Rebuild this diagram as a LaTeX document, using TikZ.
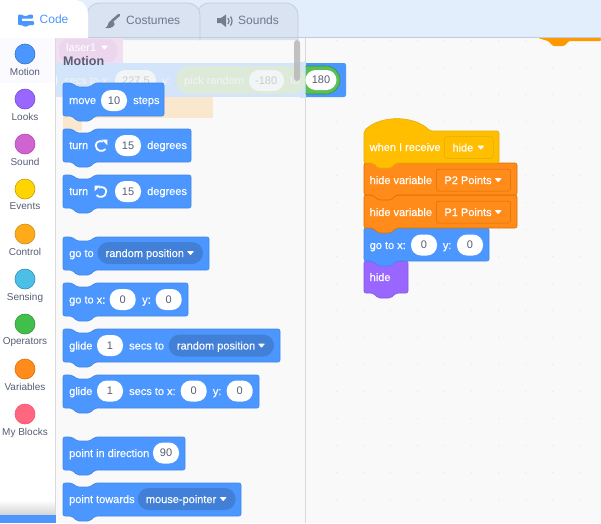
\documentclass[tikz,border=0pt]{standalone}
\usepackage{fontspec}
\setmainfont{Liberation Sans}
\newfontfamily\heavyface[FakeBold=0.2]{Liberation Sans}
\usepackage{tikz}
\definecolor{motionblue}{HTML}{4C97FF}
\definecolor{motionedge}{HTML}{3F86E8}
\definecolor{motionmenu}{HTML}{4280D7}
\definecolor{eventyellow}{HTML}{FFBF00}
\definecolor{eventedge}{HTML}{E6AC00}
\definecolor{varorange}{HTML}{FF8C1A}
\definecolor{varedge}{HTML}{DB6E00}
\definecolor{looksviolet}{HTML}{9966FF}
\definecolor{lookedge}{HTML}{855CD6}
\definecolor{labelgrey}{HTML}{575E75}
\definecolor{tabfill}{HTML}{D9E3F2}
\definecolor{tabedge}{HTML}{C3CCD9}
\definecolor{barblue}{HTML}{E3EEFD}
\definecolor{paneltone}{HTML}{F9F9F9}
\definecolor{iconfill}{HTML}{757D8C}
\definecolor{ghostband}{HTML}{D3E4FB}
\definecolor{ghostgreen}{HTML}{DDEAD9}
\definecolor{ghostpill}{HTML}{F2F5F5}
\definecolor{ghostpeach}{HTML}{F9E8CE}
\definecolor{ghostpink}{HTML}{F0DEF1}
\definecolor{ghostmenu}{HTML}{EBD6EE}
\definecolor{ringgreen}{HTML}{59C059}
\definecolor{ringedge}{HTML}{389438}
\newcommand{\blockfont}{\fontsize{11}{13}\selectfont}
\newcommand{\tabfont}{\fontsize{12}{14}\selectfont}
\newcommand{\catfont}{\fontsize{10}{12}\selectfont}
\newcommand{\titlefont}{\fontsize{12.5}{15}\selectfont\bfseries}
\tikzset{
	blockface/.style={draw=#1,line width=.6pt,rounded corners=2pt},
	blocktext/.style={text=white,anchor=base west,yshift=-4pt,inner sep=0pt,font=\heavyface\blockfont},
	numpill/.style={fill=white,text=labelgrey,minimum width=26pt,minimum height=21pt,inner sep=0pt,rounded corners=10pt,font=\blockfont},
	bluemenu/.style={fill=motionmenu,rounded corners=11pt},
	orangemenu/.style={fill=varorange,draw=varedge,line width=.5pt,rounded corners=3pt},
	yellowmenu/.style={fill=eventyellow,draw=eventedge,line width=.5pt,rounded corners=3pt},
	tabshape/.style={fill=tabfill,draw=tabedge,line width=.7pt,rounded corners=12pt},
	catdot/.style={circle,minimum size=20pt,inner sep=0pt,line width=.6pt},
	cattext/.style={text=labelgrey,inner sep=0pt,font=\catfont},
	ghosttext/.style={anchor=base west,yshift=-4pt,inner sep=0pt,font=\blockfont},
	tabtext/.style={anchor=base west,yshift=-4pt,inner sep=0pt,font=\tabfont},
}
% stack block: left, top, right, bottom, colour, edge
\newcommand{\stackblock}[6]{
	\draw[blockface=#6,fill=#5] (#1,#2) -- (#1+9,#2) -- (#1+14,#2+4) -- (#1+27,#2+4) -- (#1+32,#2) -- (#3,#2) -- (#3,#4) -- (#1+32,#4) -- (#1+27,#4+5) -- (#1+14,#4+5) -- (#1+9,#4) -- (#1,#4) -- cycle;
}
% menu: name, left, right, middle, text, style
\newcommand{\menupill}[6]{
	\path[#6] (#2,#4-11) rectangle (#3,#4+11);
	\node[blocktext] (#1) at (#2+8,#4) {#5};
	\menucaret{#3-12.5}{#4}
}
\newcommand{\menucaret}[2]{
	\fill[white,rounded corners=.6pt] (#1-3.5,#2-1.8) -- (#1+3.5,#2-1.8) -- (#1,#2+2.2) -- cycle;
}
% turn arrow: centre, mirror
\newcommand{\turnicon}[3]{
	\begin{scope}[shift={(#1,#2)},xscale=#3]
		\draw[white,line width=1.8pt] (4.5,3.6) .. controls (2,6.8) and (-5.2,6) .. (-5.2,0) .. controls (-5.2,-3.6) and (-1.5,-5.2) .. (2,-4);
		\fill[white] (.7,-5.8) -- (6.3,-5.8) -- (6.3,-.3) -- cycle;
	\end{scope}
}

\begin{document}
\begin{tikzpicture}[x=1pt,y=-1pt]
	\useasboundingbox (0,0) rectangle (601,523);
	\fill[paneltone] (0,0) rectangle (601,523);
	\fill[barblue] (0,0) rectangle (601,37.5);

	\foreach \col in {0,...,9}
		\foreach \row in {0,...,17}
			\fill[black!9] (336.7+27*\col,40.7+27*\row) circle[radius=.7pt];

	\draw[tabshape] (197,40) -- (197,3) -- (298,3) -- (298,40);
	\draw[tabshape] (87,40) -- (87,3) -- (200,3) -- (200,40);
	\fill[white] (0,0) -- (74,0) .. controls (83,0) and (88,6) .. (88,15) -- (88,38) -- (0,38) -- cycle;
	\draw[tabedge,line width=.7pt] (88,37.5) -- (601,37.5);

	\fill[motionblue,rounded corners=1pt] (18,14.5) -- (22,14.5) -- (24,16) -- (27,16) -- (29,14.5) -- (33,14.5) -- (33,18.5) -- (18,18.5) -- cycle;
	\fill[motionblue] (18,18) rectangle (22,21.5);
	\fill[motionblue,rounded corners=1pt] (18,21) -- (34,21) -- (34,25) -- (29,25) -- (27,26.5) -- (24,26.5) -- (22,25) -- (18,25) -- cycle;
	\node[tabtext,text=motionblue] (codetab) at (39.5,19) {Code};
	\draw[iconfill,line width=2.6pt,line cap=round] (119,15) -- (112,21);
	\fill[iconfill] (105,28) .. controls (109,27) and (107,22) .. (111,20.5) .. controls (114,21) and (115,23) .. (114.5,24.5) .. controls (113,28) and (109,28.5) .. (105,28) -- cycle;
	\node[tabtext,text=labelgrey!85] (costumestab) at (126,20.5) {Costumes};
	\fill[iconfill] (217,18) -- (221,18) -- (226,14.5) -- (226,27) -- (221,23) -- (217,23) -- cycle;
	\draw[iconfill,line width=1.2pt] (228,18) .. controls (229.5,20) and (229.5,22) .. (228,24);
	\draw[iconfill,line width=1.2pt] (230.5,16.5) .. controls (232.5,19.5) and (232.5,22.5) .. (230.5,25.5);
	\node[tabtext,text=labelgrey!85] (soundstab) at (238,20.5) {Sounds};

	\fill[white] (0,38) rectangle (55.5,523);
	\fill[bottom color=black!17,top color=white] (0,500) rectangle (55.5,515);
	\fill[motionblue] (0,515) rectangle (56,523);
	\fill[black!5!blue!2!white] (0,38) rectangle (55.5,83);
	\draw[black!15,line width=.8pt] (55.7,38) -- (55.7,515);

	\foreach \catname/\catlabel/\catfill/\catedge [count=\i from 0] in {
		motion/Motion/4C97FF/3373CC,looks/Looks/9966FF/774DCB,sound/Sound/CF63CF/BD42BD,
		events/Events/FFD500/CC9900,control/Control/FFAB19/CF8B17,sensing/Sensing/4CBFE6/2E8EB8,
		operators/Operators/40BF4A/389438,variables/Variables/FF8C1A/DB6E00,myblocks/My Blocks/FF6680/FF4D6A}
	{
		\definecolor{dotfill}{HTML}{\catfill}
		\definecolor{dotedge}{HTML}{\catedge}
		\node[catdot,fill=dotfill,draw=dotedge] (\catname) at (25,54+45*\i) {};
		\node[cattext,below=3.5pt] (\catname text) at (\catname.south) {\catlabel};
	}

	\fill[ghostpink] (56,38) rectangle (123,63);
	\fill[ghostmenu,rounded corners=9pt] (59,39) rectangle (117,62);
	\node[ghosttext,text=white] (laserlabel) at (66,47) {laser1};
	\menucaret{104.5}{47.5}

	\fill[ghostpeach] (63,96) rectangle (213,118);
	\fill[ghostpeach] (63,118) rectangle (82,131);
	\fill[ghostband] (56,63) rectangle (306,97);
	\fill[motionblue,rounded corners=2pt] (300,63) rectangle (346,97);
	\fill[ghostband] (300,62) rectangle (305.5,98);
	\begin{scope}
		\clip (56,60) rectangle (70,100);
		\fill[ghostpill,rounded corners=10pt] (30,70) rectangle (57.5,91);
	\end{scope}
	\fill[ghostpill,rounded corners=10pt] (115,70) rectangle (156,91);
	\node[ghosttext,text=ghostpill] (ghostsecs) at (64,80.5) {secs to x:};
	\node[ghosttext,text=black!20] (ghostval) at (122,80.5) {227.5};
	\node[ghosttext,text=ghostpill] (ghosty) at (162,80.5) {y:};
	\fill[ghostgreen,rounded corners=13pt] (176,66) rectangle (305.5,94);
	\fill[ghostpill,rounded corners=10pt] (249,70) rectangle (284,91);
	\node[ghosttext,text=ghostpill] (ghostpick) at (184,80.5) {pick random};
	\node[ghosttext,text=black!20] (ghostneg) at (255,80.5) {-180};
	\node[ghosttext,text=ghostpill] (ghostto) at (290,80.5) {to};
	\begin{scope}
		\clip (305.5,60) rectangle (345,100);
		\fill[ringgreen,draw=ringedge,line width=.6pt,rounded corners=14pt] (280,66) rectangle (340,94);
	\end{scope}
	\node[numpill,minimum width=31pt,minimum height=20pt] (randomto) at (321,80) {180};
	\draw[black!15,line width=.8pt] (305.5,38) -- (305.5,63);
	\draw[black!15,line width=.8pt] (305.5,97) -- (305.5,523);
	\fill[black!28,opacity=.85,rounded corners=3pt] (294,40) rectangle (300,81);
	\node[anchor=base west,inner sep=0pt,yshift=-4.5pt,text=labelgrey,font=\titlefont] (flyouttitle) at (63,61) {Motion};

	\stackblock{63}{83}{164}{116}{motionblue}{motionedge}
	\node[blocktext] (movetext) at (69,100) {move};
	\node[numpill] (movesteps) at (114,100.5) {10};
	\node[blocktext] (stepstext) at (133,100) {steps};

	\stackblock{63}{129}{191}{162}{motionblue}{motionedge}
	\node[blocktext] (turnright) at (69,145) {turn};
	\turnicon{101}{145.5}{1}
	\node[numpill] (rightdeg) at (128,145.5) {15};
	\node[blocktext] (rightunit) at (147,145) {degrees};

	\stackblock{63}{175}{191}{208}{motionblue}{motionedge}
	\node[blocktext] (turnleft) at (69,191) {turn};
	\turnicon{101}{191.5}{-1}
	\node[numpill] (leftdeg) at (128,191.5) {15};
	\node[blocktext] (leftunit) at (147,191) {degrees};

	\stackblock{63}{237}{209}{270}{motionblue}{motionedge}
	\node[blocktext] (gototext) at (69,253) {go to};
	\menupill{gotomenu}{97.5}{203}{253}{random position}{bluemenu}

	\stackblock{63}{283}{188}{316}{motionblue}{motionedge}
	\node[blocktext] (gotoxtext) at (69,299.5) {go to x:};
	\node[numpill] (gotox) at (122.7,299.5) {0};
	\node[blocktext] (gotoytext) at (142,299.5) {y:};
	\node[numpill] (gotoy) at (168.7,299.5) {0};

	\stackblock{63}{329}{280}{362}{motionblue}{motionedge}
	\node[blocktext] (glidetext) at (69,345.5) {glide};
	\node[numpill] (glidesecs) at (110,345.5) {1};
	\node[blocktext] (glideunit) at (129,345.5) {secs to};
	\menupill{glidemenu}{168.7}{274}{345.5}{random position}{bluemenu}

	\stackblock{63}{375}{259}{408}{motionblue}{motionedge}
	\node[blocktext] (glideto) at (69,391) {glide};
	\node[numpill] (glidetosecs) at (110,391) {1};
	\node[blocktext] (glidetounit) at (129,391) {secs to x:};
	\node[numpill] (glidex) at (193.7,391) {0};
	\node[blocktext] (glideytext) at (212.7,391) {y:};
	\node[numpill] (glidey) at (239.7,391) {0};

	\stackblock{63}{437}{185}{470}{motionblue}{motionedge}
	\node[blocktext] (pointtext) at (69,453) {point in direction};
	\node[numpill] (pointval) at (166,453) {90};

	\stackblock{63}{483}{241}{516}{motionblue}{motionedge}
	\node[blocktext] (towardstext) at (69,499) {point towards};
	\menupill{towardsmenu}{137.7}{235.7}{499}{mouse-pointer}{bluemenu}

	\stackblock{364}{261}{408}{293}{looksviolet}{lookedge}
	\node[blocktext] (hidetext) at (369.5,277) {hide};

	\stackblock{364}{228}{489}{261}{motionblue}{motionedge}
	\node[blocktext] (scriptxtext) at (369.5,245) {go to x:};
	\node[numpill] (scriptx) at (424,245) {0};
	\node[blocktext] (scriptytext) at (442.7,245) {y:};
	\node[numpill] (scripty) at (470,245) {0};

	\stackblock{364}{195}{517}{228}{varorange}{varedge}
	\node[blocktext] (hideone) at (369.5,212) {hide variable};
	\menupill{onemenu}{436.3}{510.7}{212}{P1 Points}{orangemenu}

	\stackblock{364}{163}{517}{195}{varorange}{varedge}
	\node[blocktext] (hidetwo) at (369.5,180) {hide variable};
	\menupill{twomenu}{436.3}{510.7}{180}{P2 Points}{orangemenu}

	\draw[blockface=eventedge,fill=eventyellow] (364,131) .. controls (380,115) and (414,115) .. (430,131) -- (499,131) -- (499,163) -- (396,163) -- (391,168) -- (378,168) -- (373,163) -- (364,163) -- cycle;
	\node[blocktext] (receivetext) at (369.5,147) {when I receive};
	\menupill{receivemenu}{444.3}{493.3}{147.5}{hide}{yellowmenu}

	\fill[orange!80!yellow,rounded corners=1pt] (538,38) -- (548,41) -- (553,46) -- (564,46) -- (569,41) -- (601,41) -- (601,38) -- cycle;
\end{tikzpicture}
\end{document}
